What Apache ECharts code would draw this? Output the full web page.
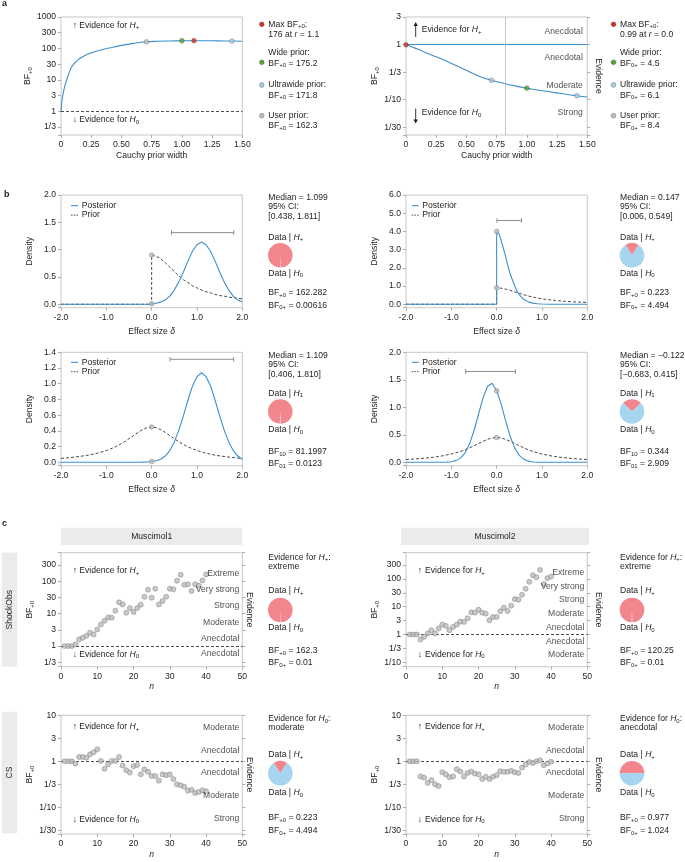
<!DOCTYPE html>
<html>
<head>
<meta charset="utf-8">
<title>Bayesian t-test figure</title>
<script src="https://cdn.jsdelivr.net/npm/echarts@6.0.0/dist/echarts.min.js"></script>
<style>
  html, body { margin: 0; padding: 0; background: #fff; }
  #main { width: 685px; height: 862px; }
</style>
</head>
<body>
<div id="main"></div>
<script>
// ---------------- data ----------------
// BF axis tick labels, one per half decade starting at 1/30
var bfTickLabels = ['1/30', '1/10', '1/3', '1', '3', '10', '30', '100', '300', '1000']
// evidence categories lying between these BF bounds
var evidenceBounds = [1 / 30, 1 / 10, 1 / 3, 1, 3, 10, 30, 100, 300]
var evidenceNames = ['Strong', 'Moderate', 'Anecdotal', 'Anecdotal', 'Moderate', 'Strong', 'Very strong', 'Extreme']

// a: BF against Cauchy prior width
var widthPlus = [0, 0.01, 0.02, 0.03, 0.05, 0.075, 0.1, 0.15, 0.2, 0.25, 0.3, 0.4, 0.5, 0.6, 0.707, 0.8, 0.9, 1.0, 1.1, 1.2, 1.3, 1.414, 1.5]
var bfPlus = [1, 2.5, 4, 6, 11, 20, 30, 46, 60, 72, 83, 103, 125, 145, 162.3, 169, 173, 175.2, 176, 175.6, 174.3, 171.8, 170]
var widthMinus = [0, 0.05, 0.1, 0.185, 0.25, 0.32, 0.4, 0.49, 0.6, 0.707, 0.82, 0.9, 1.0, 1.1, 1.2, 1.3, 1.414, 1.5]
var bfMinus = [1, 0.9, 0.82, 0.68, 0.6, 0.52, 0.43, 0.35, 0.27, 0.225, 0.195, 0.178, 0.162, 0.148, 0.138, 0.128, 0.118, 0.112]
// marked priors: max, wide, ultrawide, user
var markWidthPlus = [1.1, 1.0, 1.414, 0.707]
var markBfPlus = [176, 175.2, 171.8, 162.3]
var markWidthMinus = [0, 1.0, 1.414, 0.707]
var markBfMinus = [0.99, 0.162, 0.118, 0.225]
var legendPlus = [['Max BF{s|+0}:', '176 at {i|r} = 1.1'], ['Wide prior:', 'BF{s|+0} = 175.2'], ['Ultrawide prior:', 'BF{s|+0} = 171.8'], ['User prior:', 'BF{s|+0} = 162.3']]
var legendMinus = [['Max BF{s|+0}:', '0.99 at {i|r} = 0.0'], ['Wide prior:', 'BF{s|0+} = 4.5'], ['Ultrawide prior:', 'BF{s|0+} = 6.1'], ['User prior:', 'BF{s|0+} = 8.4']]

// b: prior and posterior densities
var deltaPos = [0, 0.1, 0.2, 0.3, 0.4, 0.5, 0.6, 0.7, 0.8, 0.9, 1.0, 1.1, 1.2, 1.3, 1.4, 1.5, 1.6, 1.7, 1.8, 1.9, 2.0]
var priorOneSided = [0.90, 0.88, 0.83, 0.76, 0.68, 0.60, 0.52, 0.45, 0.40, 0.34, 0.30, 0.26, 0.23, 0.21, 0.18, 0.16, 0.15, 0.13, 0.12, 0.11, 0.10]
var postTopLeft = [0.01, 0.02, 0.04, 0.08, 0.15, 0.26, 0.41, 0.59, 0.79, 0.97, 1.09, 1.14, 1.09, 0.97, 0.79, 0.59, 0.41, 0.26, 0.15, 0.08, 0.04]
var deltaTopRight = [0, 0.05, 0.1, 0.15, 0.2, 0.25, 0.3, 0.35, 0.4, 0.45, 0.5, 0.6, 0.7, 0.8, 0.9, 1.0, 1.2, 2.0]
var postTopRight = [4.0, 3.87, 3.5, 3.05, 2.6, 2.08, 1.66, 1.32, 1.0, 0.73, 0.52, 0.26, 0.13, 0.06, 0.03, 0.01, 0, 0]
var deltaTwo = [-2.0, -1.8, -1.6, -1.4, -1.2, -1.0, -0.9, -0.8, -0.7, -0.6, -0.5, -0.4, -0.3, -0.2, -0.1, 0, 0.1, 0.2, 0.3, 0.4, 0.5, 0.6, 0.7, 0.8, 0.9, 1.0, 1.2, 1.4, 1.6, 1.8, 2.0]
var priorTwoSided = [0.05, 0.06, 0.074, 0.091, 0.116, 0.15, 0.172, 0.197, 0.227, 0.262, 0.30, 0.341, 0.381, 0.417, 0.441, 0.45, 0.441, 0.417, 0.381, 0.341, 0.30, 0.262, 0.227, 0.197, 0.172, 0.15, 0.116, 0.091, 0.074, 0.06, 0.05]
var deltaBotLeft = [-2.0, -0.4, -0.3, -0.2, -0.1, 0, 0.1, 0.2, 0.3, 0.4, 0.5, 0.6, 0.7, 0.8, 0.9, 1.0, 1.1, 1.2, 1.3, 1.4, 1.5, 1.6, 1.7, 1.8, 1.9, 2.0]
var postBotLeft = [0, 0, 0.001, 0.002, 0.004, 0.01, 0.02, 0.04, 0.08, 0.15, 0.26, 0.41, 0.59, 0.79, 0.97, 1.09, 1.14, 1.09, 0.97, 0.79, 0.59, 0.41, 0.26, 0.15, 0.08, 0.04]
var deltaBotRight = [-2.0, -1.3, -1.2, -1.1, -1.0, -0.9, -0.8, -0.7, -0.6, -0.5, -0.4, -0.3, -0.2, -0.1, 0, 0.1, 0.2, 0.3, 0.4, 0.5, 0.6, 0.7, 0.8, 0.9, 1.0, 2.0]
var postBotRight = [0, 0, 0.001, 0.003, 0.01, 0.03, 0.075, 0.168, 0.331, 0.573, 0.873, 1.171, 1.382, 1.436, 1.30, 1.057, 0.749, 0.468, 0.257, 0.124, 0.053, 0.02, 0.006, 0.001, 0, 0]
// densities at delta = 0 (upper, lower dot)
var dotsTopLeft = [0.9, 0.01]
var dotsTopRight = [4.0, 0.9]
var dotsBotLeft = [0.45, 0.01]
var dotsBotRight = [1.30, 0.45]
// 95% credible intervals
var ciTopLeft = [0.438, 1.811]
var ciTopRight = [0.006, 0.549]
var ciBotLeft = [0.406, 1.810]
var ciBotRight = [-0.683, 0.415]
var bfPanelB = [162.282, 0.223, 81.1997, 0.344]

// c: sequential analysis
var nObs = [1, 2, 3, 4, 5, 6, 7, 8, 9, 10, 11, 12, 13, 14, 15, 16, 17, 18, 19, 20,
  21, 22, 23, 24, 25, 26, 27, 28, 29, 30, 31, 32, 33, 34, 35, 36, 37, 38, 39, 40]
var bfShockM1 = [1, 1, 1, 1.13, 1.61, 1.81, 2.08, 2.58, 2.29, 3.27, 4.67, 6.05, 7.67, 7.49, 12.3, 22.3, 19.3, 10.7, 14.9, 11.2,
  14.9, 18.9, 33.3, 54.8, 31.0, 58.9, 19.3, 24.5, 33.3, 58.9, 56.1, 104, 159, 78.2, 80, 49.9, 80, 72.8, 106, 162.3]
var bfShockM2 = [1, 1, 1, 0.66, 0.83, 1.09, 1.43, 1.09, 1.64, 2.27, 2.04, 1.43, 1.88, 2.27, 2.91, 2.83, 3.83, 6.28, 6.1, 7.8,
  6.1, 5.62, 3.25, 4.27, 4.27, 6.8, 9.2, 7.0, 10.9, 18.8, 17.8, 26.8, 44, 78, 135, 115, 210, 66, 106, 120.25]
var bfCsM1 = [1, 1, 1, 0.89, 1.24, 1.24, 1.2, 1.42, 1.57, 1.82, 1.02, 0.69, 0.86, 1.02, 1.02, 1.24, 0.81, 0.64, 0.57, 0.78,
  0.83, 0.52, 0.67, 0.59, 0.48, 0.48, 0.38, 0.52, 0.50, 0.52, 0.41, 0.316, 0.30, 0.28, 0.23, 0.24, 0.205, 0.215, 0.234, 0.223]
var bfCsM2 = [1, 1, 1, 0.47, 0.44, 0.34, 0.39, 0.316, 0.29, 0.58, 0.52, 0.45, 0.47, 0.67, 0.60, 0.47, 0.56, 0.60, 0.54, 0.52,
  0.41, 0.46, 0.41, 0.46, 0.50, 0.61, 0.59, 0.59, 0.62, 0.58, 0.56, 0.73, 0.85, 0.97, 0.92, 1.0, 1.05, 0.82, 0.9, 0.977]
var bfPanelC = [162.3, 120.25, 0.223, 0.977]

// ---------------- style ----------------
var FONT = '"Liberation Sans", Arial, Helvetica, sans-serif'
var FS = 8.6
var INK = '#1e1e1e'
var FRAME = '#b9b9b9'
var TICK = '#9a9a9a'
var BLUE = '#3d8fcd'
var PIE_RED = '#f3868d'
var PIE_BLUE = '#a5d5ef'
var STRIP = '#ebebeb'
var MARK_COLORS = ['#d1322a', '#58a332', '#a7cde4', '#bdbdbd']

var gRich = {
    s: { fontSize: 6, fontFamily: FONT, fill: INK, lineHeight: 5, verticalAlign: 'bottom' },
    i: { fontSize: FS, fontFamily: FONT, fill: INK, fontStyle: 'italic', lineHeight: 11 }
}
var axRich = {
    s: { fontSize: 6, fontFamily: FONT, color: INK, lineHeight: 5, verticalAlign: 'bottom' },
    i: { fontSize: FS, fontFamily: FONT, color: INK, fontStyle: 'italic', lineHeight: 11 }
}

// ---------------- helpers ----------------
var xAxes = [], yAxes = [], series = [], graphics = []

function zip(xs, ys) {
    return xs.map(function (x, i) { return [x, ys[i]] })
}
function bfLabel(v) {
    var k = Math.log10(v) * 2
    var r = Math.round(k)
    if (Math.abs(k - r) > 0.02) return ''
    return bfTickLabels[r + 3] || ''
}
function stepLabel(step, digits) {
    return function (v) {
        var q = v / step
        if (Math.abs(q - Math.round(q)) > 1e-6) return ''
        return v.toFixed(digits)
    }
}
function widthLabel(v) {
    return v === 0 ? '0' : v.toFixed(2)
}
function axisBase(grid) {
    return {
        gridIndex: grid,
        axisLine: { show: false, onZero: false },
        splitLine: { show: false },
        axisTick: { show: true, length: 3, lineStyle: { color: TICK, width: 0.8 } },
        nameLocation: 'middle',
        nameTextStyle: { fontSize: FS, color: INK, fontFamily: FONT, lineHeight: 11, rich: axRich }
    }
}
function addX(grid, min, max, interval, name, gap, fmt) {
    var a = axisBase(grid)
    a.type = 'value'
    a.min = min
    a.max = max
    a.interval = interval
    a.axisLabel = { fontSize: FS, color: INK, fontFamily: FONT, margin: 5, formatter: fmt }
    a.name = name
    a.nameGap = gap
    xAxes.push(a)
    return xAxes.length - 1
}
function addYlin(grid, min, max, splitNumber, step, name, gap) {
    var a = axisBase(grid)
    a.type = 'value'
    a.min = min
    a.max = max
    a.splitNumber = splitNumber
    a.axisLabel = { fontSize: FS, color: INK, fontFamily: FONT, margin: 5, formatter: stepLabel(step, 1) }
    a.name = name
    a.nameGap = gap
    yAxes.push(a)
    return yAxes.length - 1
}
function addYlog(grid, min, max, side, name, gap) {
    var a = axisBase(grid)
    a.type = 'log'
    a.logBase = Math.sqrt(10)
    a.min = min
    a.max = max
    a.position = side
    a.axisLabel = side === 'left'
        ? { fontSize: FS, color: INK, fontFamily: FONT, margin: 5, formatter: bfLabel }
        : { show: false }
    a.name = name
    a.nameGap = gap
    a.nameRotate = side === 'left' ? 90 : -90
    yAxes.push(a)
    return yAxes.length - 1
}
function lineSeries(xi, yi, data, color, width, type, smooth) {
    return {
        type: 'line', xAxisIndex: xi, yAxisIndex: yi, data: data,
        symbol: 'none', smooth: smooth, silent: true, z: 3,
        lineStyle: { color: color, width: width, type: type }
    }
}
function refLines(items) {
    return { silent: true, symbol: ['none', 'none'], label: { show: false }, animation: false, data: items }
}
function dotSeries(xi, yi, data, size) {
    return {
        type: 'scatter', xAxisIndex: xi, yAxisIndex: yi, data: data, symbolSize: size, silent: true, z: 5,
        itemStyle: { color: '#bdbdbd', borderColor: '#7b7b7b', borderWidth: 0.6 }
    }
}
function markSeries(xi, yi, xs, ys) {
    return {
        type: 'scatter', xAxisIndex: xi, yAxisIndex: yi, symbolSize: 4.8, silent: true, z: 6,
        data: xs.map(function (x, i) {
            return { value: [x, ys[i]], itemStyle: { color: MARK_COLORS[i], borderColor: 'rgba(0,0,0,0.45)', borderWidth: 0.6 } }
        })
    }
}
function evidenceSeries(xi, yi, xRight, lo, hi, dist) {
    var data = []
    for (var j = 0; j < evidenceNames.length; j++) {
        var a = evidenceBounds[j], b = evidenceBounds[j + 1]
        if (a >= lo * 0.99 && b <= hi * 1.01) data.push({ name: evidenceNames[j], value: [xRight, Math.sqrt(a * b)] })
    }
    return {
        type: 'scatter', xAxisIndex: xi, yAxisIndex: yi, data: data, symbolSize: 0, silent: true, z: 8,
        label: { show: true, position: 'left', distance: dist, formatter: '{b}', fontSize: FS, color: INK, fontFamily: FONT }
    }
}
function renderCI(params, api) {
    var p1 = api.coord([api.value(0), api.value(2)])
    var p2 = api.coord([api.value(1), api.value(2)])
    var st = { stroke: '#8e8e8e', lineWidth: 1 }
    var c = 2.3
    return {
        type: 'group', children: [
            { type: 'line', shape: { x1: p1[0], y1: p1[1], x2: p2[0], y2: p2[1] }, style: st },
            { type: 'line', shape: { x1: p1[0], y1: p1[1] - c, x2: p1[0], y2: p1[1] + c }, style: st },
            { type: 'line', shape: { x1: p2[0], y1: p2[1] - c, x2: p2[0], y2: p2[1] + c }, style: st }
        ]
    }
}
function ciSeries(xi, yi, ci, top) {
    return {
        type: 'custom', xAxisIndex: xi, yAxisIndex: yi, renderItem: renderCI, silent: true, z: 4,
        encode: { x: [0, 1], y: 2 }, data: [[ci[0], ci[1], top * 1.15]]
    }
}
function pieSeries(cx, cy, bf) {
    var p = bf / (1 + bf)
    return {
        type: 'pie', center: [cx, cy], radius: 12.3, startAngle: 90 + p * 180, clockwise: true,
        silent: true, label: { show: false }, labelLine: { show: false },
        itemStyle: { borderWidth: 0 },
        data: [{ value: p, itemStyle: { color: PIE_RED } }, { value: 1 - p, itemStyle: { color: PIE_BLUE } }]
    }
}
function T(x, y, s, o) {
    o = o || {}
    return {
        type: 'text', x: x, y: y, rotation: o.rot || 0, silent: true, z: 100,
        style: {
            text: s, fontSize: o.fs || FS, fontFamily: FONT, fontWeight: o.fw || 'normal', fill: INK,
            align: o.align || 'left', verticalAlign: 'middle', lineHeight: 11, rich: gRich
        }
    }
}
function seg(x1, y1, x2, y2, color, width, dash) {
    return {
        type: 'line', silent: true, z: 100, shape: { x1: x1, y1: y1, x2: x2, y2: y2 },
        style: { stroke: color, lineWidth: width, lineDash: dash || null }
    }
}
function arrowLong(x, yFrom, yTo) {
    var d = yTo > yFrom ? 1 : -1
    return [
        seg(x, yFrom, x, yTo - d * 3, INK, 0.9),
        { type: 'polygon', silent: true, z: 100, shape: { points: [[x - 2.2, yTo - d * 4], [x + 2.2, yTo - d * 4], [x, yTo]] }, style: { fill: INK } }
    ]
}
function evidenceArrows(arrowX, textX, yUp, yDown) {
    graphics.push(T(arrowX, yUp, '\u2191', { align: 'center' }))
    graphics.push(T(textX, yUp, 'Evidence for {i|H}{s|+}'))
    graphics.push(T(arrowX, yDown, '\u2193', { align: 'center' }))
    graphics.push(T(textX, yDown, 'Evidence for {i|H}{s|0}'))
}

// ---------------- layout ----------------
var COL = [61, 406], PW = 181.3
var grids = [
    [0, 17, 118], [1, 17, 118],
    [0, 195, 112.7], [1, 195, 112.7],
    [0, 352.3, 113.4], [1, 352.3, 113.4],
    [0, 552.7, 114], [1, 552.7, 114],
    [0, 715.3, 118.7], [1, 715.3, 118.7]
].map(function (g) {
    return { left: COL[g[0]], top: g[1], width: PW, height: g[2], show: true, borderColor: FRAME, borderWidth: 0.8, backgroundColor: 'transparent' }
})
var INFO_X = [268.3, 620], PIE_X = [280.3, 632]

// ---------------- panel a ----------------
var x0 = addX(0, 0, 1.5, 0.25, 'Cauchy prior width', 15, widthLabel)
var y0 = addYlog(0, Math.pow(10, -0.755), 1000, 'left', 'BF{s|+0}', 26)
var curveA0 = lineSeries(x0, y0, zip(widthPlus, bfPlus), BLUE, 1.1, 'solid', true)
curveA0.markLine = refLines([{ yAxis: 1, lineStyle: { color: INK, width: 0.8, type: [3, 2] } }])
series.push(curveA0, markSeries(x0, y0, markWidthPlus, markBfPlus))

var x1 = addX(1, 0, 1.5, 0.25, 'Cauchy prior width', 15, widthLabel)
var y1lo = Math.pow(10, -1.64), y1hi = Math.pow(10, 0.5)
var y1 = addYlog(1, y1lo, y1hi, 'left', 'BF{s|+0}', 26)
var y1r = addYlog(1, y1lo, y1hi, 'right', 'Evidence', 5.5)
var curveA1 = lineSeries(x1, y1, zip(widthMinus, bfMinus), BLUE, 1.1, 'solid', true)
curveA1.markLine = refLines([
    { yAxis: 1, lineStyle: { color: BLUE, width: 1.1, type: 'solid' } },
    { xAxis: 0.82, lineStyle: { color: FRAME, width: 0.8, type: 'solid' } }
])
series.push(curveA1, markSeries(x1, y1, markWidthMinus, markBfMinus), evidenceSeries(x1, y1, 1.5, y1lo, y1hi, 4.5))

evidenceArrows(75, 79.3, 25.3, 120)
graphics.push.apply(graphics, arrowLong(415.7, 37, 22))
graphics.push.apply(graphics, arrowLong(415.7, 108.5, 123.5))
graphics.push(T(421.7, 30, 'Evidence for {i|H}{s|+}'))
graphics.push(T(421.7, 113, 'Evidence for {i|H}{s|0}'))

var legLine1 = [24.3, 52.3, 85, 115.7], legLine2 = [34.3, 63.3, 95.3, 126], legDot = [24.3, 62.3, 85, 115.7]
;[legendPlus, legendMinus].forEach(function (leg, c) {
    leg.forEach(function (t, i) {
        graphics.push({ type: 'circle', silent: true, z: 100, shape: { cx: INFO_X[c] - 6.5, cy: legDot[i], r: 2.4 },
            style: { fill: MARK_COLORS[i], stroke: 'rgba(0,0,0,0.4)', lineWidth: 0.6 } })
        graphics.push(T(INFO_X[c], legLine1[i], t[0]))
        graphics.push(T(INFO_X[c], legLine2[i], t[1]))
    })
})

// ---------------- panel b ----------------
function truncated(xs, ys) {
    return [[-2, 0], [0, 0]].concat(zip(xs, ys))
}
var panelsB = [
    { grid: 2, lo: -0.0625, hi: 2, split: 5, step: 0.5, prior: truncated(deltaPos, priorOneSided), post: truncated(deltaPos, postTopLeft), dots: dotsTopLeft, ci: ciTopLeft },
    { grid: 3, lo: -0.19, hi: 6, split: 5, step: 1, prior: truncated(deltaPos, priorOneSided), post: truncated(deltaTopRight, postTopRight), dots: dotsTopRight, ci: ciTopRight },
    { grid: 4, lo: -0.043, hi: 1.4, split: 7, step: 0.2, prior: zip(deltaTwo, priorTwoSided), post: zip(deltaBotLeft, postBotLeft), dots: dotsBotLeft, ci: ciBotLeft },
    { grid: 5, lo: -0.0625, hi: 2, split: 5, step: 0.5, prior: zip(deltaTwo, priorTwoSided), post: zip(deltaBotRight, postBotRight), dots: dotsBotRight, ci: ciBotRight }
]
panelsB.forEach(function (p) {
    var xi = addX(p.grid, -2, 2, 1, 'Effect size {i|\u03b4}', 18, function (v) { return v.toFixed(1) })
    var yi = addYlin(p.grid, p.lo, p.hi, p.split, p.step, 'Density', 26)
    var top = Math.max.apply(null, p.post.map(function (d) { return d[1] }).concat(p.prior.map(function (d) { return d[1] })))
    series.push(
        lineSeries(xi, yi, p.prior, '#333', 0.9, [3, 2], false),
        lineSeries(xi, yi, p.post, BLUE, 1.1, 'solid', false),
        dotSeries(xi, yi, [[0, p.dots[0]], [0, p.dots[1]]], 4.6),
        ciSeries(xi, yi, p.ci, top)
    )
})

// legends inside b panels
;[[71, 81.7, 205.7], [411.7, 422.3, 205.7], [71, 81.7, 362.3], [411.7, 422.3, 362.3]].forEach(function (l) {
    graphics.push(seg(l[0], l[2], l[0] + 7, l[2], BLUE, 1.1))
    graphics.push(T(l[1], l[2], 'Posterior'))
    graphics.push(seg(l[0], l[2] + 9.4, l[0] + 7, l[2] + 9.4, '#333', 0.9, [1.5, 1.2]))
    graphics.push(T(l[1], l[2] + 9.4, 'Prior'))
})

var infoB = [
    { c: 0, y: [197.7, 206.7, 216.3, 237.3, 255.3, 273.3, 292.7, 305.3], t: ['Median = 1.099', '95% CI:', '[0.438, 1.811]', 'Data | {i|H}{s|+}', 'Data | {i|H}{s|0}', 'BF{s|+0} = 162.282', 'BF{s|0+} = 0.00616'] },
    { c: 1, y: [197.7, 206.7, 216.3, 237.3, 255.3, 273.3, 292.7, 305.3], t: ['Median = 0.147', '95% CI:', '[0.006, 0.549]', 'Data | {i|H}{s|+}', 'Data | {i|H}{s|0}', 'BF{s|+0} = 0.223', 'BF{s|0+} = 4.494'] },
    { c: 0, y: [355.7, 364.7, 374.3, 393.3, 411.5, 430, 452, 464], t: ['Median = 1.109', '95% CI:', '[0.406, 1.810]', 'Data | {i|H}{s|1}', 'Data | {i|H}{s|0}', 'BF{s|10} = 81.1997', 'BF{s|01} = 0.0123'] },
    { c: 1, y: [355.7, 364.7, 374.3, 393.3, 411.5, 430, 452, 464], t: ['Median = \u22120.122', '95% CI:', '[\u22120.683, 0.415]', 'Data | {i|H}{s|1}', 'Data | {i|H}{s|0}', 'BF{s|10} = 0.344', 'BF{s|01} = 2.909'] }
]
infoB.forEach(function (b, k) {
    var x = INFO_X[b.c]
    graphics.push(T(x, b.y[0], b.t[0]), T(x, b.y[1], b.t[1]), T(x, b.y[2], b.t[2]), T(x, b.y[3], b.t[3]),
        T(x, b.y[5], b.t[4]), T(x, b.y[6], b.t[5]), T(x, b.y[7], b.t[6]))
    series.push(pieSeries(PIE_X[b.c], b.y[4], bfPanelB[k]))
})

// ---------------- panel c ----------------
var panelsC = [
    { grid: 6, lo: Math.pow(10, -0.636), hi: Math.pow(10, 2.88), bf: bfShockM1, evGap: 1.5 },
    { grid: 7, lo: Math.pow(10, -1.157), hi: Math.pow(10, 2.94), bf: bfShockM2, evGap: 5.5 },
    { grid: 8, lo: Math.pow(10, -1.58), hi: 10, bf: bfCsM1, evGap: 1.5 },
    { grid: 9, lo: Math.pow(10, -1.58), hi: 10, bf: bfCsM2, evGap: 5.5 }
]
panelsC.forEach(function (p) {
    var xi = addX(p.grid, 0, 50, 10, '{i|n}', 14, null)
    var yi = addYlog(p.grid, p.lo, p.hi, 'left', 'BF{s|+0}', 26)
    addYlog(p.grid, p.lo, p.hi, 'right', 'Evidence', p.evGap)
    var dots = dotSeries(xi, yi, zip(nObs, p.bf), 5)
    dots.markLine = refLines([{ yAxis: 1, lineStyle: { color: INK, width: 0.8, type: [3, 2] } }])
    series.push(dots, evidenceSeries(xi, yi, 50, p.lo, p.hi, 3))
})
evidenceArrows(75, 79.3, 570.7, 654.3)
evidenceArrows(420, 425, 570.7, 654.3)
evidenceArrows(75, 79.3, 726.7, 819.3)
evidenceArrows(420, 425, 726.7, 819.3)

// strips
graphics.push({ type: 'rect', silent: true, z: 1, shape: { x: 61, y: 527.7, width: 181.3, height: 17.3 }, style: { fill: STRIP } })
graphics.push({ type: 'rect', silent: true, z: 1, shape: { x: 401, y: 527.7, width: 188, height: 17.3 }, style: { fill: STRIP } })
graphics.push(T(151.7, 536.5, 'Muscimol1', { align: 'center' }))
graphics.push(T(495, 536.5, 'Muscimol2', { align: 'center' }))
graphics.push({ type: 'rect', silent: true, z: 1, shape: { x: 1.7, y: 552.7, width: 15.6, height: 114 }, style: { fill: STRIP } })
graphics.push({ type: 'rect', silent: true, z: 1, shape: { x: 1.7, y: 711.7, width: 15.6, height: 121.6 }, style: { fill: STRIP } })
graphics.push(T(9.6, 609.7, 'ShockObs', { align: 'center', rot: Math.PI / 2 }))
graphics.push(T(9.6, 772.5, 'CS', { align: 'center', rot: Math.PI / 2 }))

var infoC = [
    { c: 0, y: [557.3, 566.7, 590.7, 610, 628, 650.7, 662.7], t: ['Evidence for {i|H}{s|+}:', 'extreme', 'BF{s|+0} = 162.3', 'BF{s|0+} = 0.01'] },
    { c: 1, y: [557.3, 566.7, 590.7, 610, 628, 650.7, 662.7], t: ['Evidence for {i|H}{s|+}:', 'extreme', 'BF{s|+0} = 120.25', 'BF{s|0+} = 0.01'] },
    { c: 0, y: [719, 728, 755, 773.3, 792.7, 817.7, 831], t: ['Evidence for {i|H}{s|0}:', 'moderate', 'BF{s|+0} = 0.223', 'BF{s|0+} = 4.494'] },
    { c: 1, y: [719, 728, 755, 773.3, 792.7, 817.7, 831], t: ['Evidence for {i|H}{s|0}:', 'anecdotal', 'BF{s|+0} = 0.977', 'BF{s|0+} = 1.024'] }
]
infoC.forEach(function (b, k) {
    var x = INFO_X[b.c]
    graphics.push(T(x, b.y[0], b.t[0]), T(x, b.y[1], b.t[1]), T(x, b.y[2], 'Data | {i|H}{s|+}'),
        T(x, b.y[4], 'Data | {i|H}{s|0}'), T(x, b.y[5], b.t[2]), T(x, b.y[6], b.t[3]))
    series.push(pieSeries(PIE_X[b.c], b.y[3], bfPanelC[k]))
})

// panel letters
graphics.push(T(2, 4, 'a', { fw: 'bold', fs: 9 }))
graphics.push(T(4, 195, 'b', { fw: 'bold', fs: 9 }))
graphics.push(T(2, 523.3, 'c', { fw: 'bold', fs: 9 }))

// ---------------- chart ----------------
var chart = echarts.init(document.getElementById('main'))
chart.setOption({
    animation: false,
    backgroundColor: '#fff',
    textStyle: { fontFamily: FONT },
    grid: grids,
    xAxis: xAxes,
    yAxis: yAxes,
    series: series,
    graphic: { elements: graphics }
})
</script>
</body>
</html>
